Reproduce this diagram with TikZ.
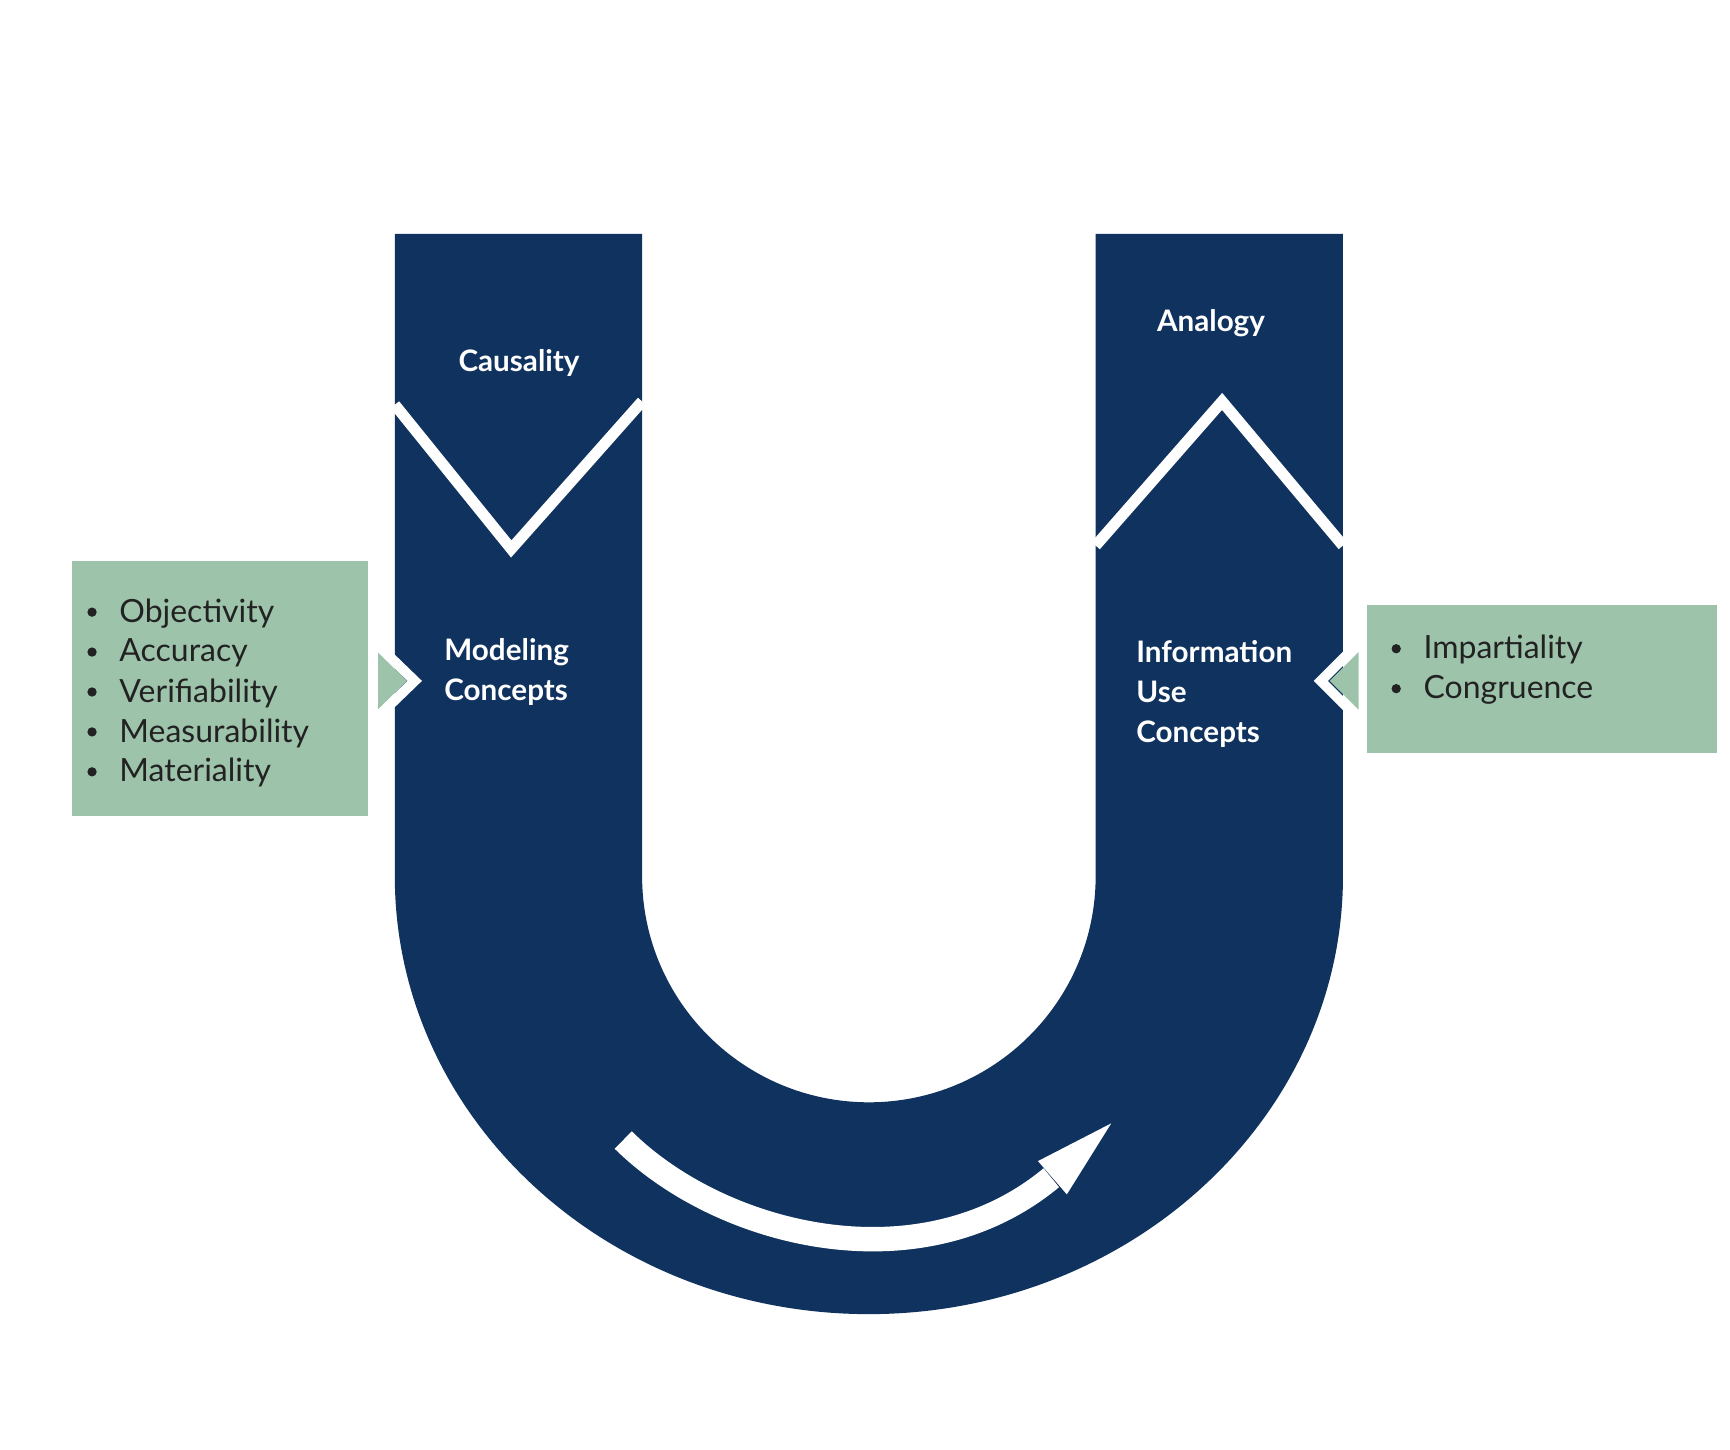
\documentclass[tikz,border=0pt]{standalone}
\usepackage{fontspec}
\setmainfont{Lato}
\definecolor{navy}{HTML}{0F325E}
\definecolor{sage}{HTML}{9DC3AB}
\definecolor{ink}{HTML}{222222}
\begin{document}
\begin{tikzpicture}[x=0.01cm,y=-0.01cm,
  lbl/.style={text=white,font=\fontsize{7.6}{10.2}\selectfont\bfseries,align=left,inner sep=0},
  lst/.style={text=ink,font=\fontsize{8.2}{10.2}\selectfont,align=left,inner sep=0,anchor=west},
  cut/.style={white,line width=0.1cm},
  chev/.style={white,line width=0.09cm}]
\useasboundingbox (0,0) rectangle (1560,1307);
% U shape
\fill[navy] (356,211) -- (579,211) -- (579,790)
  .. controls (579,903) and (671,994) .. (783.5,994)
  .. controls (896,994) and (988,903) .. (988,790)
  -- (988,211) -- (1211,211) -- (1211,790)
  .. controls (1211,1008) and (1019,1185) .. (783.5,1185)
  .. controls (547,1185) and (356,1008) .. (356,790) -- cycle;
% V cuts
\coordinate (l1) at (356,365); \coordinate (l2) at (461,495); \coordinate (l3) at (579,362);
\draw[cut] (l1) -- (l2) -- (l3);
\coordinate (r1) at (988,492); \coordinate (r2) at (1102,362); \coordinate (r3) at (1211,492);
\draw[cut] (r1) -- (r2) -- (r3);
% green boxes
\node[fill=sage,minimum width=2.67cm,minimum height=2.30cm,inner sep=0] (gl) at (198.5,621) {};
\node[fill=sage,minimum width=3.15cm,minimum height=1.33cm,inner sep=0] (gr) at (1390.5,612.5) {};
% chevrons
\fill[sage] (341,588) -- (367,614) -- (341,640) -- cycle;
\coordinate (cl1) at (344,585); \coordinate (cl2) at (374,614); \coordinate (cl3) at (344,643);
\draw[chev] (cl1) -- (cl2) -- (cl3);
\fill[sage] (1225,588) -- (1199,614) -- (1225,640) -- cycle;
\coordinate (cr1) at (1221,584); \coordinate (cr2) at (1191,614); \coordinate (cr3) at (1221,644);
\draw[chev] (cr1) -- (cr2) -- (cr3);
% curved arrow
\coordinate (a0) at (562,1028); \coordinate (a1) at (948,1062);
\draw[white,line width=0.22cm] (a0) .. controls (650,1115) and (830,1160) .. (a1);
\fill[white] (936,1047) -- (1002,1013) -- (962,1077) -- cycle;
% labels
\node[lbl] (caus) at (468,327) {Causality};
\node[lbl] (anal) at (1092,291) {Analogy};
\node[lbl,anchor=west] (mod) at (400,606) {Modeling\\Concepts};
\node[lbl,anchor=west] (info) at (1024,626) {Information\\Use\\Concepts};
% lists
\foreach \t [count=\i] in {Objectivity,Accuracy,Verifiability,Measurability,Materiality}{
  \fill[ink] (83,{552+36*(\i-1)}) circle (4.2);
  \node[lst] (ll\i) at (107,{553+36*(\i-1)}) {\t};
}
\foreach \t [count=\i] in {Impartiality,Congruence}{
  \fill[ink] (1259,{585+36*(\i-1)}) circle (4.2);
  \node[lst] (rl\i) at (1283,{586+36*(\i-1)}) {\t};
}
\end{tikzpicture}
\end{document}
